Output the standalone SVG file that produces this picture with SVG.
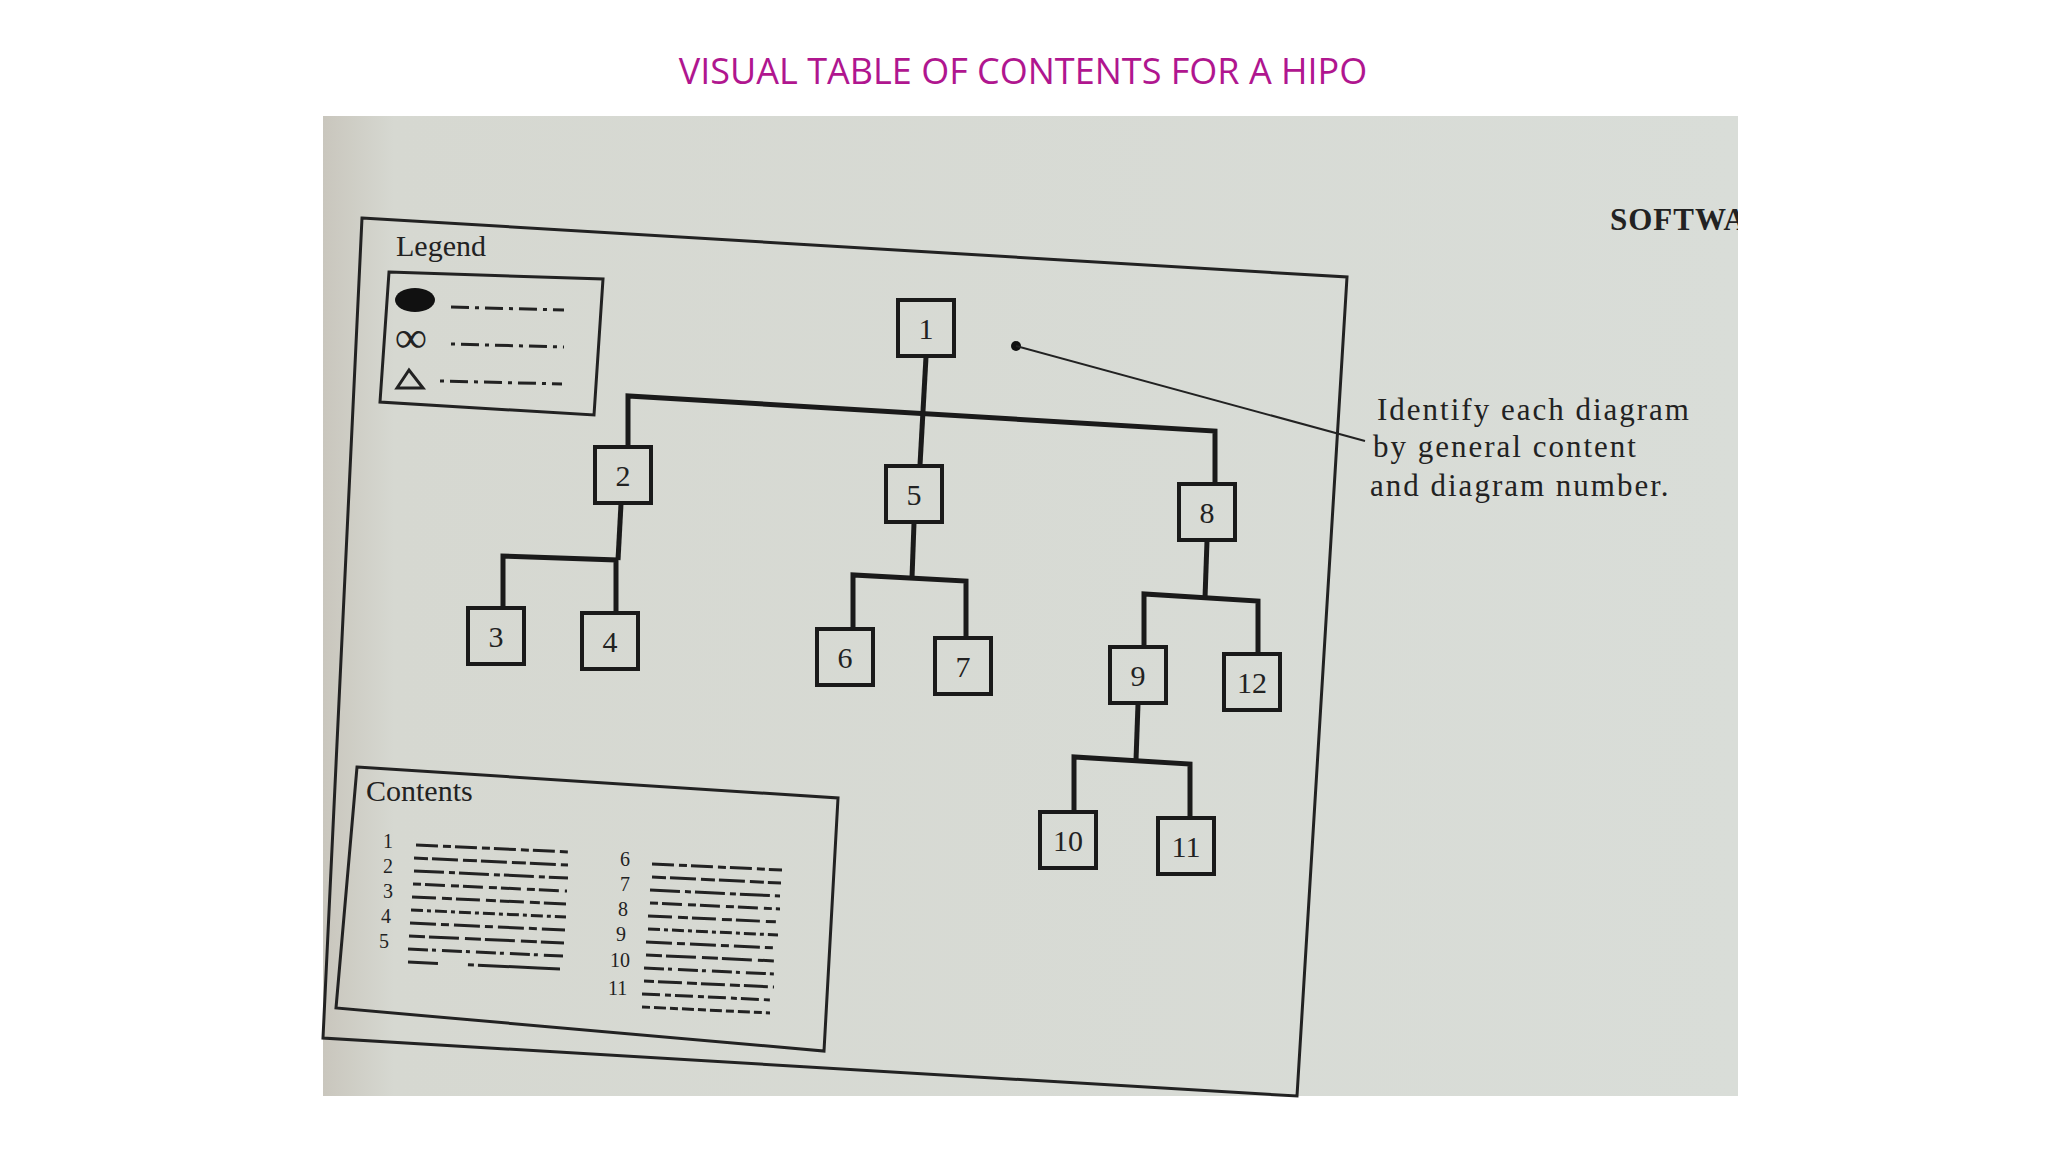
<svg xmlns="http://www.w3.org/2000/svg" width="2048" height="1152" viewBox="0 0 2048 1152">
<defs>
<style>
.n rect{fill:none;stroke:#1a1a1a;stroke-width:4}
.n text{font-family:"Liberation Serif",serif;font-size:30px;fill:#222;text-anchor:middle;dominant-baseline:central}
.c{stroke:#1a1a1a;stroke-width:5;fill:none}
.fr{fill:none;stroke:#222;stroke-width:3}
.s{font-family:"Liberation Serif",serif;fill:#222}
.d{stroke:#222;stroke-width:3;fill:none}
</style>
<linearGradient id="pg" x1="0" y1="0" x2="1" y2="0">
<stop offset="0" stop-color="#c9c6bd"/><stop offset="0.05" stop-color="#d6d8d1"/><stop offset="1" stop-color="#d9ddd8"/>
</linearGradient>
<clipPath id="pc"><rect x="323" y="116" width="1415" height="980"/></clipPath>
</defs>
<rect width="2048" height="1152" fill="#fff"/>
<text x="1023" y="84" text-anchor="middle" font-family="'Open Sans','Noto Sans',sans-serif" font-size="36" fill="#b0168f">VISUAL TABLE OF CONTENTS FOR A HIPO</text>
<rect x="323" y="116" width="1415" height="980" fill="url(#pg)"/>
<polygon class="fr" points="362,218 1347,277 1297,1096 323,1038"/>
<text class="s" x="396" y="256" font-size="30">Legend</text>
<polygon class="fr" points="389,272 603,279 594,415 380,402"/>
<ellipse cx="415" cy="300" rx="20" ry="12" fill="#111"/>
<text class="s" x="411" y="352" font-size="44" font-weight="bold" text-anchor="middle">∞</text>
<polygon class="d" points="397,388 409,370 423,388"/>
<line class="d" x1="451" y1="307" x2="564" y2="310" stroke-dasharray="18,6,4,6"/>
<line class="d" x1="451" y1="344" x2="564" y2="347" stroke-dasharray="4,6,18,6"/>
<line class="d" x1="440" y1="381" x2="562" y2="384" stroke-dasharray="4,6,18,6"/>
<g id="connectors">
<polyline class="c" points="628,446 628,396 1215,431 1215,483"/>
<line class="c" x1="926" y1="357" x2="920" y2="465"/>
<polyline class="c" points="503,606 503,556 616,560 616,611"/>
<line class="c" x1="621" y1="504" x2="618" y2="560"/>
<polyline class="c" points="853,628 853,575 966,581 966,637"/>
<line class="c" x1="914" y1="523" x2="912" y2="578"/>
<polyline class="c" points="1144,646 1144,594 1258,601 1258,653"/>
<line class="c" x1="1207" y1="541" x2="1205" y2="598"/>
<polyline class="c" points="1074,811 1074,757 1190,764 1190,817"/>
<line class="c" x1="1138" y1="704" x2="1136" y2="760"/>
<circle cx="1016" cy="346" r="5" fill="#111"/>
<line x1="1016" y1="346" x2="1365" y2="441" stroke="#222" stroke-width="2"/>
</g>
<g id="n1" class="n"><rect x="898" y="300" width="56" height="56"/><text x="926" y="328">1</text></g>
<g id="n2" class="n"><rect x="595" y="447" width="56" height="56"/><text x="623" y="475">2</text></g>
<g id="n5" class="n"><rect x="886" y="466" width="56" height="56"/><text x="914" y="494">5</text></g>
<g id="n8" class="n"><rect x="1179" y="484" width="56" height="56"/><text x="1207" y="512">8</text></g>
<g id="n3" class="n"><rect x="468" y="608" width="56" height="56"/><text x="496" y="636">3</text></g>
<g id="n4" class="n"><rect x="582" y="613" width="56" height="56"/><text x="610" y="641">4</text></g>
<g id="n6" class="n"><rect x="817" y="629" width="56" height="56"/><text x="845" y="657">6</text></g>
<g id="n7" class="n"><rect x="935" y="638" width="56" height="56"/><text x="963" y="666">7</text></g>
<g id="n9" class="n"><rect x="1110" y="647" width="56" height="56"/><text x="1138" y="675">9</text></g>
<g id="n12" class="n"><rect x="1224" y="654" width="56" height="56"/><text x="1252" y="682">12</text></g>
<g id="n10" class="n"><rect x="1040" y="812" width="56" height="56"/><text x="1068" y="840">10</text></g>
<g id="n11" class="n"><rect x="1158" y="818" width="56" height="56"/><text x="1186" y="846">11</text></g>
<g class="s" font-size="31" letter-spacing="2">
<text x="1377" y="420">Identify each diagram</text>
<text x="1373" y="457">by general content</text>
<text x="1370" y="496">and diagram number.</text>
</g>
<text class="s" x="1610" y="230" font-size="31" font-weight="bold" letter-spacing="1" clip-path="url(#pc)">SOFTWA</text>
<polygon class="fr" points="357,767 838,798 824,1051 336,1008"/>
<text class="s" x="366" y="801" font-size="30">Contents</text>
<g class="s" font-size="20">
<text x="383" y="848">1</text><text x="383" y="873">2</text><text x="383" y="898">3</text><text x="381" y="923">4</text><text x="379" y="948">5</text>
<text x="620" y="866">6</text><text x="620" y="891">7</text><text x="618" y="916">8</text><text x="616" y="941">9</text><text x="610" y="967">10</text><text x="608" y="995">11</text>
</g>
<g class="d" stroke-width="4">
<line x1="416" y1="845" x2="570" y2="852" stroke-dasharray="22,5,8,4"/>
<line x1="414" y1="858" x2="568" y2="865" stroke-dasharray="14,4,26,5"/>
<line x1="414" y1="871" x2="568" y2="878" stroke-dasharray="30,5,6,4"/>
<line x1="413" y1="884" x2="567" y2="891" stroke-dasharray="8,4,20,6"/>
<line x1="412" y1="897" x2="566" y2="904" stroke-dasharray="24,6,10,4"/>
<line x1="411" y1="910" x2="566" y2="917" stroke-dasharray="12,4,4,4"/>
<line x1="410" y1="923" x2="565" y2="930" stroke-dasharray="26,5,8,5"/>
<line x1="409" y1="936" x2="564" y2="943" stroke-dasharray="16,4,30,6"/>
<line x1="408" y1="949" x2="563" y2="956" stroke-dasharray="20,4,4,6"/>
<line x1="408" y1="962" x2="560" y2="969" stroke-dasharray="30,30,6,4,60,0"/>
<line x1="652" y1="864" x2="782" y2="870" stroke-dasharray="22,5,8,4"/>
<line x1="652" y1="877" x2="781" y2="883" stroke-dasharray="14,4,26,5"/>
<line x1="650" y1="890" x2="780" y2="896" stroke-dasharray="30,5,6,4"/>
<line x1="650" y1="903" x2="780" y2="909" stroke-dasharray="8,4,20,6"/>
<line x1="648" y1="916" x2="779" y2="922" stroke-dasharray="24,6,10,4"/>
<line x1="648" y1="929" x2="778" y2="935" stroke-dasharray="12,4,4,4"/>
<line x1="646" y1="942" x2="777" y2="948" stroke-dasharray="26,5,8,5"/>
<line x1="646" y1="955" x2="776" y2="961" stroke-dasharray="16,4,30,6"/>
<line x1="644" y1="968" x2="775" y2="974" stroke-dasharray="20,4,4,6"/>
<line x1="644" y1="981" x2="774" y2="987" stroke-dasharray="10,4,24,5"/>
<line x1="642" y1="994" x2="772" y2="1000" stroke-dasharray="18,5,6,4"/>
<line x1="642" y1="1007" x2="770" y2="1013" stroke-dasharray="8,4,12,4"/>
</g>
</svg>
